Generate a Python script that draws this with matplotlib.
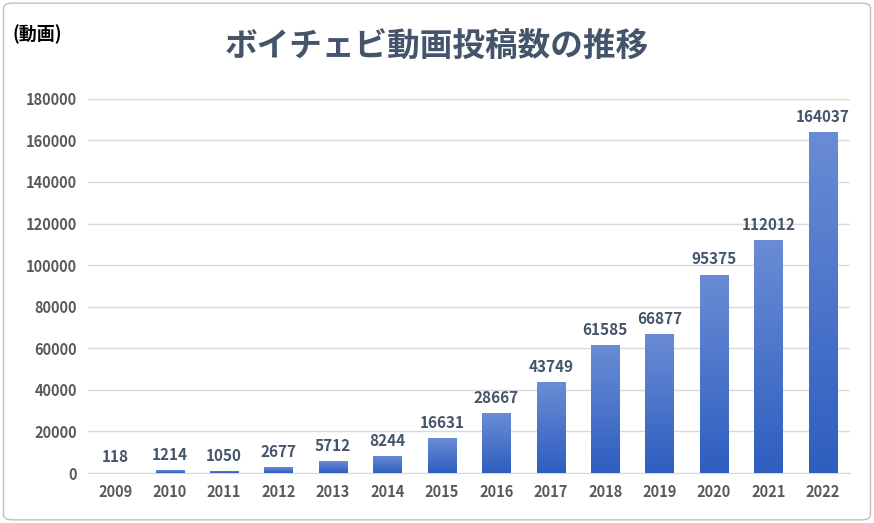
"""ボイチェビ動画投稿数の推移 bar chart."""
import numpy as np
import matplotlib

matplotlib.use("Agg")
import matplotlib.pyplot as plt
from matplotlib.patches import FancyBboxPatch

YEARS = ["2009", "2010", "2011", "2012", "2013", "2014", "2015",
         "2016", "2017", "2018", "2019", "2020", "2021", "2022"]
COUNTS = [118, 1214, 1050, 2677, 5712, 8244, 16631,
          28667, 43749, 61585, 66877, 95375, 112012, 164037]
TITLE = "ボイチェビ動画投稿数の推移"
UNIT = "(動画)"

plt.rcParams["font.family"] = "Noto Sans CJK JP"

fig = plt.figure(figsize=(8.74, 5.23), dpi=100)
fig.patches.append(FancyBboxPatch(
    (0.004, 0.006), 0.992, 0.988, boxstyle="round,pad=0,rounding_size=0.01",
    transform=fig.transFigure, facecolor="white", edgecolor="#BFBFBF",
    linewidth=1, zorder=-10))
ax = fig.add_axes([0.1007, 0.0956, 0.872, 0.7154])
ax.set_facecolor("none")

x = np.arange(len(YEARS))
bars = ax.bar(x, COUNTS, width=0.52, color="#3F6FC8", zorder=2)
gradient = np.linspace(0, 1, 256).reshape(-1, 1)
cmap = matplotlib.colors.LinearSegmentedColormap.from_list(
    "bar", ["#2E5EC0", "#6A8CD4"])
for bar in bars:
    x0, w, h = bar.get_x(), bar.get_width(), bar.get_height()
    im = ax.imshow(gradient, cmap=cmap, aspect="auto", origin="lower",
                   extent=[x0, x0 + w, 0, h], zorder=3)
    im.set_clip_path(bar)
    ax.text(x0 + w / 2, h + 3500, str(h), ha="center", va="bottom",
            fontsize=11, fontweight="bold", color="#44546A", zorder=4)

ax.set_xlim(-0.5, len(YEARS) - 0.5)
ax.set_ylim(0, 180000)
ax.set_yticks(range(0, 180001, 20000))
ax.set_xticks(x, YEARS)
ax.grid(axis="y", color="#D9D9D9", linewidth=1, zorder=0)
for spine in ["top", "right", "left"]:
    ax.spines[spine].set_visible(False)
ax.spines["bottom"].set_color("#D9D9D9")
ax.tick_params(length=0, labelsize=10.5, labelcolor="#595959", pad=8)
for label in ax.get_xticklabels() + ax.get_yticklabels():
    label.set_fontweight("bold")

fig.text(0.5, 0.912, TITLE, ha="center", va="center", fontsize=23.5,
         fontweight="bold", color="#44546A")
fig.text(0.014, 0.935, UNIT, ha="left", va="center", fontsize=13,
         fontweight="bold", color="black")

fig.savefig("out.png", dpi=100)
